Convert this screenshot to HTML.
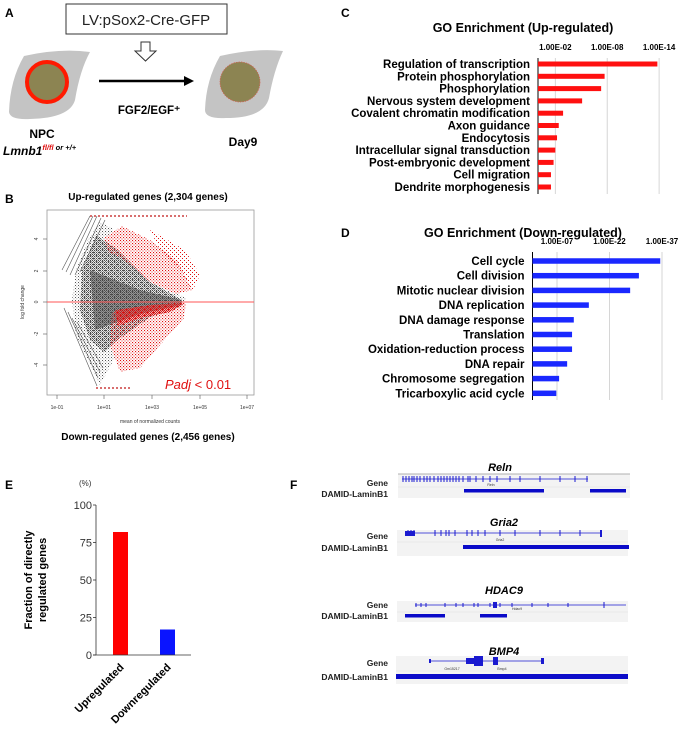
<!DOCTYPE html>
<html><head><meta charset="utf-8"><style>
body{margin:0;background:#fff;width:685px;height:735px;overflow:hidden;font-family:"Liberation Sans",sans-serif}
svg{position:absolute;left:0;top:0}
text{font-family:"Liberation Sans",sans-serif}
.b{font-weight:bold}
</style></head><body>
<svg width="685" height="735" viewBox="0 0 685 735">
<defs>
<pattern id="pg" width="2" height="2" patternUnits="userSpaceOnUse"><rect x="0" y="0" width="1.1" height="1.1" fill="#444"/><rect x="1" y="1" width="0.8" height="0.8" fill="#666"/></pattern>
<pattern id="pgl" width="3" height="3" patternUnits="userSpaceOnUse"><rect x="0" y="0" width="1" height="1" fill="#555"/><rect x="1.5" y="1.5" width="0.8" height="0.8" fill="#777"/></pattern>
<pattern id="pr" width="3" height="3" patternUnits="userSpaceOnUse"><rect x="0" y="0" width="1.1" height="1.1" fill="#e01010"/><rect x="1.5" y="1.5" width="1" height="1" fill="#e82020"/></pattern>
<pattern id="prl" width="4" height="4" patternUnits="userSpaceOnUse"><rect x="0" y="0" width="1" height="1" fill="#e01010"/><rect x="2" y="2" width="1" height="1" fill="#e01010"/></pattern>
<pattern id="prd" width="2" height="2" patternUnits="userSpaceOnUse"><rect x="0" y="0" width="1.2" height="1.2" fill="#d01010"/><rect x="1" y="1" width="1" height="1" fill="#e01818"/></pattern>
</defs>
<!-- Panel A -->
<g>
<text x="5" y="17" class="b" font-size="12">A</text>
<rect x="66" y="4" width="161" height="30" fill="#fff" stroke="#333" stroke-width="1"/>
<text x="146" y="25" text-anchor="middle" font-size="15" fill="#222">LV:pSox2-Cre-GFP</text>
<path d="M141,42 h9 v9 h6 l-10.5,10 l-10.5,-10 h6 z" fill="#fff" stroke="#333"/>
<path d="M24,56 Q60,48 90,52 Q80,70 75,100 Q70,118 30,119 Q10,120 9,112 Q10,80 24,56 z" fill="#c4c4c4"/>
<circle cx="47" cy="82" r="20" fill="#8c8452" stroke="#ff1a00" stroke-width="4"/>
<line x1="99" y1="81" x2="186" y2="81" stroke="#000" stroke-width="2.5"/>
<path d="M184,76 L194,81 L184,86 z" fill="#000"/>
<text x="149" y="114" text-anchor="middle" class="b" font-size="11.5">FGF2/EGF⁺</text>
<path d="M220,56 Q255,48 283,51 Q274,70 269,98 Q264,118 226,118 Q205,119 205,110 Q206,80 220,56 z" fill="#c4c4c4"/>
<circle cx="240" cy="82" r="20" fill="#8c8452" stroke="#d06050" stroke-width="0.7" stroke-dasharray="1.5,1"/>
<text x="42" y="138" text-anchor="middle" class="b" font-size="12">NPC</text>
<text x="3" y="155" class="b" font-size="12" font-style="italic">Lmnb1<tspan fill="#e01010" font-size="7.5" dy="-5">fl/fl</tspan><tspan font-size="7.5" dy="0"> or +/+</tspan></text>
<text x="243" y="146" text-anchor="middle" class="b" font-size="12">Day9</text>
</g>

<!-- Panel B -->
<g>
<text x="5" y="203" class="b" font-size="12">B</text>
<text x="148" y="200" text-anchor="middle" class="b" font-size="10">Up-regulated genes (2,304 genes)</text>
<text x="148" y="440" text-anchor="middle" class="b" font-size="10">Down-regulated genes (2,456 genes)</text>
<rect x="47" y="210" width="207" height="185" fill="#fff" stroke="#999" stroke-width="0.8"/>
<g>
<g stroke="#555" stroke-width="0.6" fill="none">
<path d="M90,216 L62,270"/><path d="M93,216 L66,272"/><path d="M97,216 L70,275"/><path d="M101,218 L75,275"/><path d="M105,220 L80,272"/>
<path d="M64,308 L97,386"/><path d="M68,312 L98,378"/><path d="M72,318 L100,372"/><path d="M77,322 L103,368"/>
</g>
<path d="M100,222 L112,228 L118,245 L150,280 L186,298 L186,307 L150,320 L122,345 L108,370 L100,385 L88,360 L76,335 L72,300 L76,270 L88,240 z" fill="url(#pgl)"/>
<path d="M96,235 L118,250 L150,282 L182,300 L180,307 L150,317 L120,338 L104,352 L90,340 L80,310 L82,270 z" fill="url(#pg)"/>
<path d="M90,270 L140,290 L182,300 L182,305 L140,314 L95,330 z" fill="#444" opacity="0.5"/>
<path d="M104,238 L122,226 L150,240 L178,262 L192,290 L176,294 L150,282 L122,258 L108,252 z" fill="url(#pr)"/>
<path d="M150,230 L185,250 L200,275 L192,292 L180,268 L160,250 z" fill="url(#prl)"/>
<path d="M112,312 L150,305 L186,302 L184,318 L160,345 L140,368 L120,372 L110,345 z" fill="url(#pr)"/>
<path d="M115,310 L150,305 L185,303 L170,312 L140,318 L118,326 z" fill="url(#prd)"/>
<line x1="90" y1="216" x2="187" y2="216" stroke="#c01818" stroke-width="1.2" stroke-dasharray="2,2"/>
<line x1="96" y1="388" x2="130" y2="388" stroke="#c01818" stroke-width="1.2" stroke-dasharray="2,2"/>
</g>
<line x1="47" y1="302" x2="254" y2="302" stroke="#ff5555" stroke-width="1"/>
<text x="165" y="389" fill="#e01010" font-size="13"><tspan font-style="italic">Padj</tspan> &lt; 0.01</text>
<g font-size="5" fill="#333" text-anchor="middle">
<text x="57" y="409">1e-01</text><text x="104" y="409">1e+01</text><text x="152" y="409">1e+03</text><text x="200" y="409">1e+05</text><text x="247" y="409">1e+07</text>
</g>
<g stroke="#555" stroke-width="0.6">
<line x1="57" y1="395" x2="57" y2="399"/><line x1="104" y1="395" x2="104" y2="399"/><line x1="152" y1="395" x2="152" y2="399"/><line x1="200" y1="395" x2="200" y2="399"/><line x1="247" y1="395" x2="247" y2="399"/>
<line x1="43" y1="239" x2="47" y2="239"/><line x1="43" y1="271" x2="47" y2="271"/><line x1="43" y1="302" x2="47" y2="302"/><line x1="43" y1="334" x2="47" y2="334"/><line x1="43" y1="365" x2="47" y2="365"/>
</g>
<g font-size="5" fill="#333" text-anchor="middle">
<text transform="translate(38,239) rotate(-90)">4</text><text transform="translate(38,271) rotate(-90)">2</text><text transform="translate(38,302) rotate(-90)">0</text><text transform="translate(38,334) rotate(-90)">-2</text><text transform="translate(38,365) rotate(-90)">-4</text>
</g>
<text x="150" y="423" text-anchor="middle" font-size="5" fill="#333">mean of normalized counts</text>
<text transform="translate(24,302) rotate(-90)" text-anchor="middle" font-size="5" fill="#333">log fold change</text>
</g>

<!-- Panel C & D -->
<g id="gc">
<text x="341" y="17" class="b" font-size="12">C</text>
<text x="523" y="32" text-anchor="middle" class="b" font-size="12.5">GO Enrichment (Up-regulated)</text>
</g>
<g id="gd">
<text x="341" y="237" class="b" font-size="12">D</text>
<text x="523" y="237" text-anchor="middle" class="b" font-size="12.5">GO Enrichment (Down-regulated)</text>
</g>

<!-- Panel E -->
<g id="ge">
<text x="5" y="489" class="b" font-size="12">E</text>
<text x="79" y="486" font-size="8" fill="#333">(%)</text>
<text transform="translate(32,580) rotate(-90)" text-anchor="middle" class="b" font-size="11">Fraction of directly</text>
<text transform="translate(46,580) rotate(-90)" text-anchor="middle" class="b" font-size="11">regulated genes</text>
</g>

<!-- Panel F -->
<g>
<text x="290" y="489" class="b" font-size="12">F</text>
<g font-size="8.5" class="b" text-anchor="end" fill="#222">
<text x="388" y="486" class="b">Gene</text><text x="388" y="497" class="b">DAMID-LaminB1</text>
<text x="388" y="539" class="b">Gene</text><text x="388" y="551" class="b">DAMID-LaminB1</text>
<text x="388" y="608" class="b">Gene</text><text x="388" y="619" class="b">DAMID-LaminB1</text>
<text x="388" y="666" class="b">Gene</text><text x="388" y="680" class="b">DAMID-LaminB1</text>
</g>
<g font-size="11" class="b" font-style="italic" text-anchor="middle">
<text x="500" y="471" class="b">Reln</text>
<text x="504" y="526" class="b">Gria2</text>
<text x="504" y="594" class="b">HDAC9</text>
<text x="504" y="655" class="b">BMP4</text>
</g>
<g fill="#f3f3f3">
<rect x="398" y="474" width="232" height="24"/><rect x="397" y="530" width="231" height="26"/>
<rect x="397" y="601" width="231" height="21"/><rect x="396" y="656" width="232" height="28"/>
</g>
<line x1="398" y1="474" x2="630" y2="474" stroke="#999" stroke-width="0.8"/>
<g stroke="#ddd" stroke-width="0.6"><line x1="398" y1="487" x2="630" y2="487"/><line x1="397" y1="542" x2="628" y2="542"/><line x1="397" y1="612" x2="628" y2="612"/><line x1="396" y1="671" x2="628" y2="671"/></g>
<g stroke="#1a1ad0" stroke-width="0.8">
<line x1="402" y1="479" x2="588" y2="479"/><line x1="406" y1="533" x2="601" y2="533"/><line x1="415" y1="605" x2="626" y2="605"/><line x1="429" y1="661" x2="543" y2="661"/>
</g>
<g fill="#1a1ad0" stroke="#1a1ad0" stroke-width="1">
<path d="M403,476v6M406,476v6M409,476v6M412,476v6M414,476v6M417,476v6M420,476v6M424,476v6M427,476v6M430,476v6M434,476v6M438,476v6M441,476v6M444,476v6M447,476v6M450,476v6M453,476v6M456,476v6M459,476v6M463,476v6M468,476v6M470,476v6M476,476v6M483,476v6M490,476v6M497,476v6M510,476v6M520,476v6M540,476v6M560,476v6M575,476v6M587,476v6"/>
<path d="M408,530v6M411,530v6M414,530v6M435,530v6M441,530v6M446,530v6M449,530v6M455,530v6M467,530v6M472,530v6M478,530v6M485,530v6M500,530v6M515,530v6M540,530v6M560,530v6M580,530v6"/>
<path d="M416,603v4M421,603v4M426,603v4M445,603v4M456,603v4M463,603v4M474,603v4M478,603v4M490,603v4M495,603v4M500,603v4M512,603v4M532,603v4M548,603v4M568,603v4M604,602v6"/>
</g>
<g fill="#1a1ad0">
<rect x="405" y="531" width="10" height="5"/><rect x="600" y="530" width="2" height="7"/>
<rect x="493" y="602" width="4" height="6"/>
<rect x="429" y="659" width="2" height="4"/><rect x="466" y="658" width="8" height="6"/><rect x="474" y="656" width="9" height="10"/><rect x="493" y="657" width="5" height="8"/><rect x="541" y="658" width="3" height="6"/>
</g>
<g fill="#0a0ac8">
<rect x="464" y="489" width="80" height="3.5"/><rect x="590" y="489" width="36" height="3.5"/>
<rect x="463" y="545" width="166" height="4"/>
<rect x="405" y="614" width="40" height="3.5"/><rect x="480" y="614" width="27" height="3.5"/>
<rect x="396" y="674" width="232" height="5"/>
</g>
<g font-size="3.5" fill="#333" text-anchor="middle"><text x="491" y="486">Reln</text><text x="500" y="541">Gria2</text><text x="517" y="610">Hdac9</text><text x="452" y="670">Gm15217</text><text x="502" y="670">Bmp4</text></g>
</g>
</svg>
<script>
// GO up-regulated data (-log10 p)
const upTerms = ["Regulation of transcription","Protein phosphorylation","Phosphorylation","Nervous system development","Covalent chromatin modification","Axon guidance","Endocytosis","Intracellular signal transduction","Post-embryonic development","Cell migration","Dendrite morphogenesis"];
const upValues = [13.8,7.7,7.3,5.1,2.9,2.4,2.2,2.0,1.8,1.5,1.5];
const upTicks = ["1.00E-02","1.00E-08","1.00E-14"];
const upTickVals = [2,8,14];
// GO down-regulated data
const downTerms = ["Cell cycle","Cell division","Mitotic nuclear division","DNA replication","DNA damage response","Translation","Oxidation-reduction process","DNA repair","Chromosome segregation","Tricarboxylic acid cycle"];
const downValues = [36.5,30.4,27.9,16.1,11.8,11.3,11.3,9.9,7.6,6.8];
const downTicks = ["1.00E-07","1.00E-22","1.00E-37"];
const downTickVals = [7,22,37];
// Panel E
const eCats = ["Upregulated","Downregulated"];
const eValues = [82,17];
const eTicks = [0,25,50,75,100];

const NS="http://www.w3.org/2000/svg";
function mk(tag,attrs,parent,txt){const e=document.createElementNS(NS,tag);for(const k in attrs)e.setAttribute(k,attrs[k]);if(txt!==undefined)e.textContent=txt;parent.appendChild(e);return e;}

function goChart(g,terms,vals,ticks,tickVals,o){
  const x=v=>o.x0+v*o.k;
  const y=i=>o.y0+i*o.step;
  tickVals.forEach((tv,i)=>{
    const l=mk('line',{x1:x(tv),x2:x(tv),y1:o.top,y2:o.bottom,stroke:'#ccc','stroke-width':0.8},g);
    
    
    const t=mk('text',{x:x(tv),y:o.tickY,'text-anchor':'middle','font-size':8,'font-weight':'bold'},g,ticks[i]);
    
    
  });
  const ax=mk('line',{x1:o.x0,x2:o.x0,y1:o.top,y2:o.bottom,stroke:'#000','stroke-width':1},g);
  
  
  terms.forEach((tm,i)=>{
    const t=mk('text',{x:o.x0-8,y:y(i)+4,'text-anchor':'end','font-size':o.fs,'font-weight':'bold'},g,tm);
    
    
    const r=mk('rect',{x:o.x0,y:y(i)-o.bh/2,width:x(vals[i])-o.x0,height:o.bh,fill:o.color},g);
    
    
  });
}
goChart(document.getElementById('gc'),upTerms,upValues,upTicks,upTickVals,{x0:538,k:8.65,y0:64,step:12.3,top:58,bottom:194,tickY:50,bh:5,color:'#ff1010',fs:11.5});
goChart(document.getElementById('gd'),downTerms,downValues,downTicks,downTickVals,{x0:532.5,k:3.5,y0:261,step:14.7,top:252,bottom:400,tickY:244,bh:5.5,color:'#1a28ff',fs:11.5});

// Panel E
(function(){
  const g=document.getElementById('ge');
  const y=v=>655-v*1.5;
  const xs=[120.5,167.5];
  eTicks.forEach(tv=>{
    const t=mk('text',{x:92,y:y(tv)+4,'text-anchor':'end','font-size':11,fill:'#333'},g,tv);
    
    
    mk('line',{x1:93,x2:96,y1:y(tv),y2:y(tv),stroke:'#333','stroke-width':0.8},g);
  });
  const colors=['#ff0000','#0a14ff'];
  eCats.forEach((c,i)=>{
    const r=mk('rect',{x:xs[i]-7.5,y:y(eValues[i]),width:15,height:655-y(eValues[i]),fill:colors[i]},g);
    
    
    const t=mk('text',{transform:`translate(${xs[i]+4},${668}) rotate(-45)`,'text-anchor':'end','font-size':11,'font-weight':'bold'},g,c);
    
    
  });
  const a1=mk('line',{x1:96,x2:96,y1:505,y2:655,stroke:'#333','stroke-width':0.8},g);
  
  
  const a2=mk('line',{x1:93,x2:191,y1:655,y2:655,stroke:'#333','stroke-width':0.8},g);
  
  
})();
</script>
</body></html>
